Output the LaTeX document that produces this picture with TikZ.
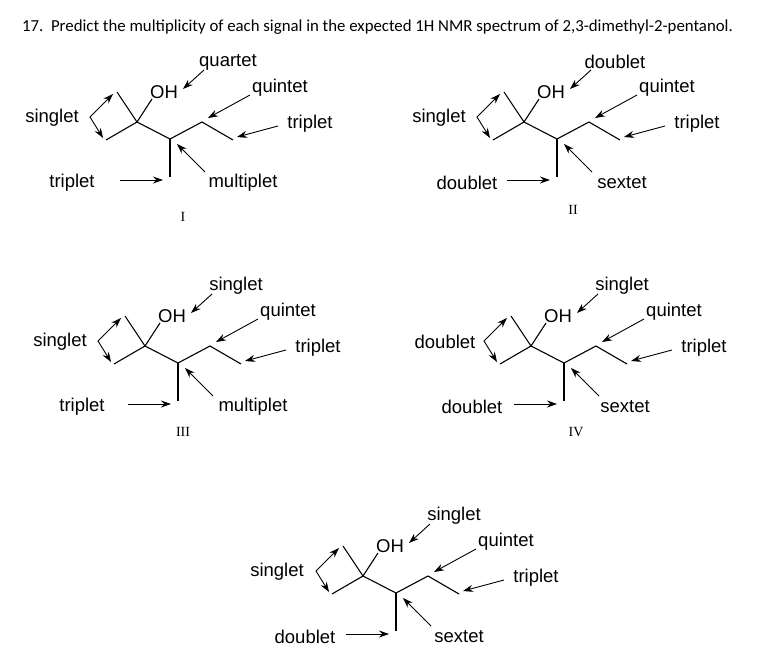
\documentclass[tikz,border=0pt]{standalone}
\usepackage{fontspec}
\setmainfont{Liberation Sans}
\newfontfamily\titlefont{Carlito}
\newfontfamily\numfont{Liberation Serif}
\usetikzlibrary{arrows.meta}
\tikzset{
  bond/.style={line width=1.1pt},
  lbl/.style={inner sep=0pt,font=\fontsize{18.5}{20}\selectfont},
  arr/.style={line width=0.9pt,-{Stealth[length=10pt,width=7pt]}},
  darr/.style={line width=0.9pt,{Stealth[length=10pt,width=7pt]}-{Stealth[length=10pt,width=7pt]}},
  numl/.style={inner sep=0pt,font=\numfont\fontsize{14}{16}\selectfont}
}
% #1 prefix, #2 shift, #3 top, #4 left label, #5 x of left label, #6 bottom-left, #7 x bottom-left, #8 bottom-right, #9 x bottom-right
\newcommand\molec[9]{%
\begin{scope}[shift={#2}]
  \coordinate (#1m1) at (117,92);
  \coordinate (#1c2) at (137,122);
  \coordinate (#1m2) at (106,140);
  \coordinate (#1o) at (152,99);
  \coordinate (#1c3) at (170,139);
  \coordinate (#1m3) at (170,177);
  \coordinate (#1c4) at (202,122);
  \coordinate (#1c5) at (233,140);
  \node[lbl] (#1oh) at (164,92) {OH};
  \draw[bond] (#1m1) -- (#1c2) -- (#1m2);
  \draw[bond] (#1c2) -- (#1o);
  \draw[bond] (#1c2) -- (#1c3) -- (#1c4) -- (#1c5);
  \draw[bond] (#1c3) -- (#1m3);
  \node[lbl] (#1top) at (228,62) {#3};
  \coordinate (#1ta) at (204,70); \coordinate (#1tb) at (183,89);
  \draw[arr] (#1ta) -- (#1tb);
  \node[lbl] (#1qu) at (280,88) {quintet};
  \coordinate (#1qa) at (250,95); \coordinate (#1qb) at (208,118);
  \draw[arr] (#1qa) -- (#1qb);
  \node[lbl] (#1tr) at (310,124) {triplet};
  \coordinate (#1ra) at (278,126); \coordinate (#1rb) at (237,137);
  \draw[arr] (#1ra) -- (#1rb);
  \node[lbl] (#1le) at (#5,118) {#4};
  \coordinate (#1la) at (113,94); \coordinate (#1lc) at (90,117); \coordinate (#1lb) at (103,138);
  \draw[darr] (#1la) -- (#1lc) -- (#1lb);
  \node[lbl] (#1bl) at (#7,183) {#6};
  \coordinate (#1ba) at (120,180); \coordinate (#1bb) at (163,180);
  \draw[arr] (#1ba) -- (#1bb);
  \node[lbl] (#1br) at (#9,183) {#8};
  \coordinate (#1ma) at (205,172); \coordinate (#1mb) at (177,144);
  \draw[arr] (#1ma) -- (#1mb);
\end{scope}}
\begin{document}
\begin{tikzpicture}[x=1pt,y=-1pt]
\useasboundingbox (0,0) rectangle (758,662);
\node[anchor=west,inner sep=0pt,font=\titlefont\fontsize{16.8}{19}\selectfont] (title) at (22,27) {17.\ \ Predict the multiplicity of each signal in the expected 1H NMR spectrum of 2,3-dimethyl-2-pentanol.};
\molec{a}{(0,0)}{quartet}{singlet}{52}{triplet}{72}{multiplet}{243}
\node[numl] (na) at (183,217) {I};
\molec{b}{(387,0)}{doublet}{singlet}{52}{doublet}{80}{sextet}{235}
\node[numl] (nb) at (573,210) {II};
\molec{c}{(8,224)}{singlet}{singlet}{52}{triplet}{74}{multiplet}{245}
\node[numl] (nc) at (183,432) {III};
\molec{d}{(394,224)}{singlet}{doublet}{51}{doublet}{78}{sextet}{231}
\node[numl] (nd) at (576,432) {IV};
\molec{e}{(226,454)}{singlet}{singlet}{51}{doublet}{79}{sextet}{233}
\end{tikzpicture}
\end{document}
